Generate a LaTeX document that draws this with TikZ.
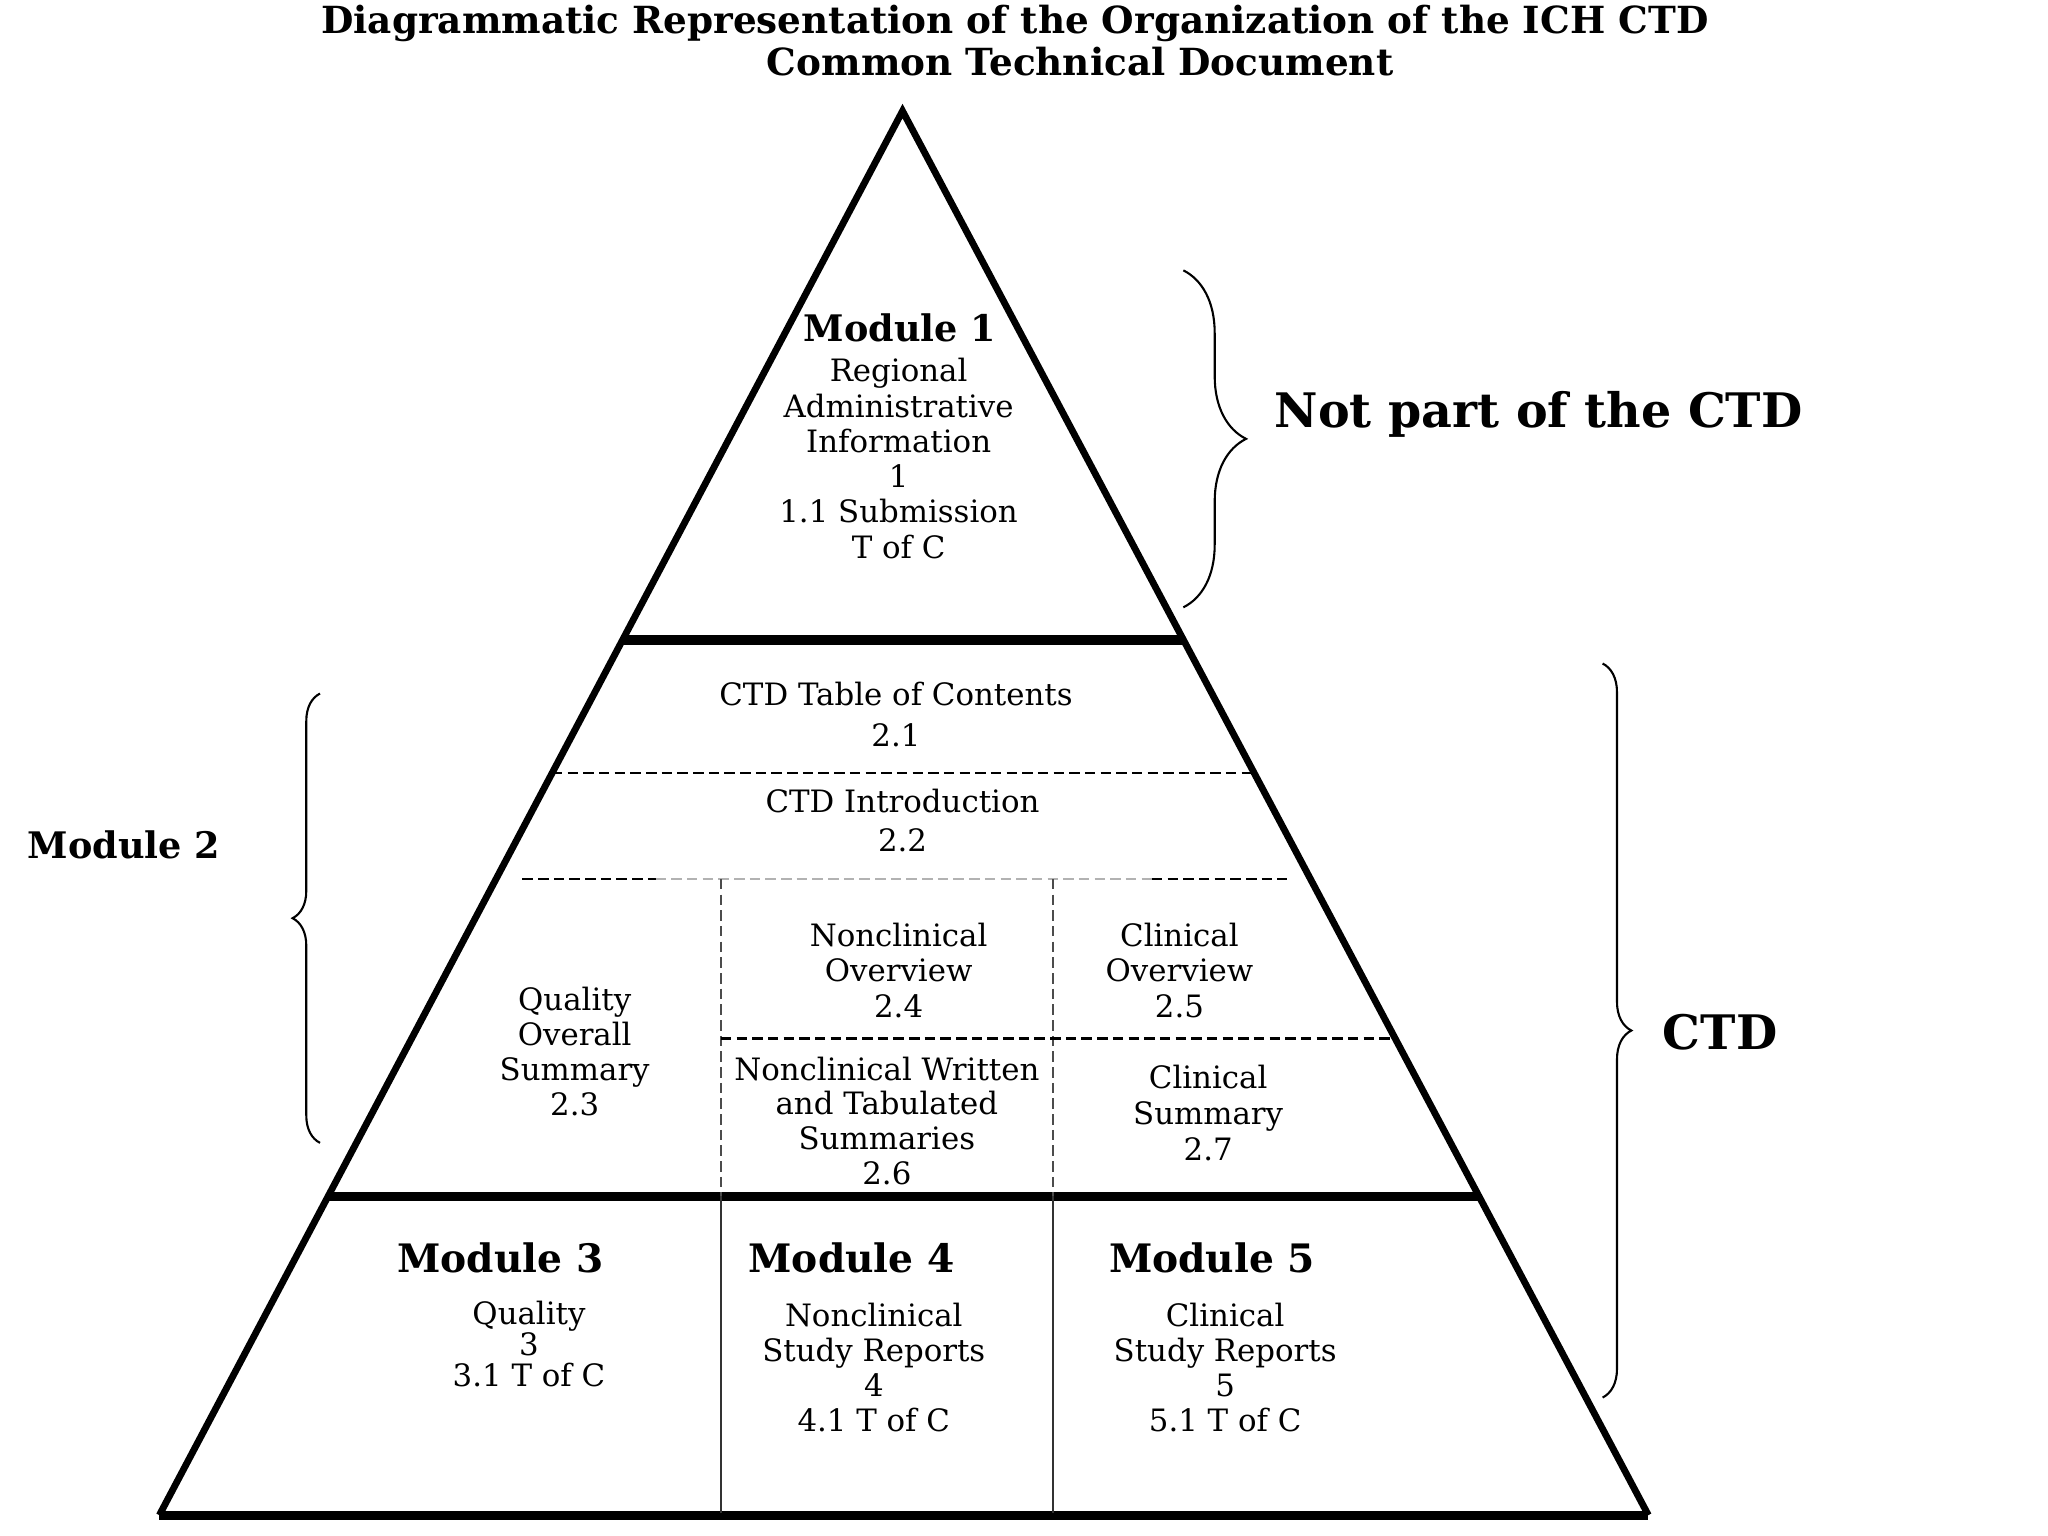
\documentclass[tikz,border=0pt]{standalone}
\usepackage{fontspec}
\setmainfont{DejaVu Serif}
\usetikzlibrary{calc,decorations.pathreplacing}
\begin{document}
\begin{tikzpicture}[x=0.5pt,y=-0.5pt,
  txt/.style={font=\fontsize{11.8}{#1}\selectfont, align=center, inner sep=0pt},
  txt/.default=13.5pt,
  modh/.style={font=\bfseries\fontsize{#1}{16}\selectfont, inner sep=0pt},
  modh/.default=14,
  big/.style={font=\bfseries\fontsize{18.2}{20}\selectfont, inner sep=0pt},
  ttl/.style={font=\bfseries\fontsize{14.3}{16}\selectfont, inner sep=0pt},
  sideline/.style={line width=2.6pt, line join=miter},
  band/.style={line width=3.5pt},
  dline/.style={line width=0.9pt, dash pattern=on 4pt off 2pt},
  gline/.style={dline, black!30},
  vline/.style={line width=0.8pt, black!80},
  brc/.style={decorate, decoration={brace, amplitude=#1}, line width=0.8pt}
]
\useasboundingbox (0,0) rectangle (1568,1176);
\fill[white] (0,0) rectangle (1568,1176);

% title
\node[ttl] (title1) at (777,18) {Diagrammatic Representation of the Organization of the ICH CTD};
\node[ttl] (title2) at (827,47) {Common Technical Document};

% pyramid frame
\coordinate (A) at (691,85);
\coordinate (BL) at (122,1160);
\coordinate (BR) at (1262,1160);
\coordinate (L1) at ($(A)!0.37674!(BL)$);
\coordinate (R1) at ($(A)!0.37674!(BR)$);
\coordinate (L2) at ($(A)!0.47163!(BL)$);
\coordinate (R2) at ($(A)!0.47163!(BR)$);
\coordinate (R4) at ($(A)!0.66047!(BR)$);
\coordinate (L5) at ($(A)!0.77302!(BL)$);
\coordinate (R5) at ($(A)!0.77302!(BR)$);

\draw[sideline] (BL) -- (A) -- (BR);
\draw[band] (BL) -- (BR);
\draw[band] (L1) -- (R1);
\draw[band] (L5) -- (R5);

% module 2 subdivisions
\draw[dline] (L2) -- (R2);
\coordinate (d1) at (400,673);
\coordinate (d2) at (502,673);
\coordinate (d3) at (882,673);
\coordinate (d4) at (985,673);
\draw[dline] (d1) -- (d2);
\draw[gline] (d2) -- (d3);
\draw[dline] (d3) -- (d4);
\coordinate (v1t) at (552,673);
\coordinate (v1m) at (552,916);
\coordinate (v1b) at (552,1158);
\coordinate (v2t) at (806,673);
\coordinate (v2m) at (806,916);
\coordinate (v2b) at (806,1158);
\coordinate (h4) at (552,795);
\draw[dline, black!70] (v1t) -- (v1m);
\draw[dline, black!70] (v2t) -- (v2m);
\draw[dline] (h4) -- (h4 -| R4);
\draw[vline] (v1m) -- (v1b);
\draw[vline] (v2m) -- (v2b);

% module 1
\node[modh] (m1h) at (689,251) {Module 1};
\node[txt] (m1b) at (688,351) {Regional\\Administrative\\Information\\1\\1.1 Submission\\T of C};

% module 2 contents
\node[txt=15.5pt] (t21) at (686,547) {CTD Table of Contents\\2.1};
\node[txt=15pt] (t22) at (691,628) {CTD Introduction\\2.2};
\node[txt] (t24) at (688,743) {Nonclinical\\Overview\\2.4};
\node[txt] (t25) at (903,743) {Clinical\\Overview\\2.5};
\node[txt] (t23) at (440,805) {Quality\\Overall\\Summary\\2.3};
\node[txt=13.3pt] (t26) at (679,858) {Nonclinical Written\\and Tabulated\\Summaries\\2.6};
\node[txt=13.8pt] (t27) at (925,852) {Clinical\\Summary\\2.7};

% modules 3-5
\node[modh=15] (m3h) at (383,963) {Module 3};
\node[txt=11.75pt] (m3b) at (405,1029) {Quality\\3\\3.1 T of C};
\node[modh=15] (m4h) at (652,963) {Module 4};
\node[txt=13.3pt] (m4b) at (669,1047) {Nonclinical\\Study Reports\\4\\4.1 T of C};
\node[modh=15] (m5h) at (928,963) {Module 5};
\node[txt=13.3pt] (m5b) at (938,1047) {Clinical\\Study Reports\\5\\5.1 T of C};

% braces and side labels
\coordinate (b1t) at (906,207);
\coordinate (b1b) at (906,465);
\draw[brc=24pt] (b1t) -- (b1b);
\node[big] (np) at (1178,317) {Not part of the CTD};

\coordinate (b2t) at (245,531);
\coordinate (b2b) at (245,875);
\draw[brc=10.5pt] (b2b) -- (b2t);
\node[modh] (m2) at (95,647) {Module 2};

\coordinate (b3t) at (1227,508);
\coordinate (b3b) at (1227,1070);
\draw[brc=11pt] (b3t) -- (b3b);
\node[big] (ctd) at (1317,790) {CTD};
\end{tikzpicture}
\end{document}
